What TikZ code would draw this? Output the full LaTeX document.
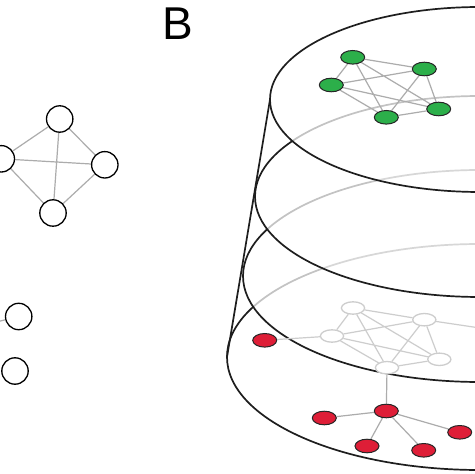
\documentclass[tikz,border=0pt]{standalone}
\usepackage{fontspec}
\setmainfont{Liberation Sans}
\usetikzlibrary{shapes.geometric}
\definecolor{netgreen}{RGB}{44,175,74}
\definecolor{netred}{RGB}{222,30,55}
\definecolor{edgegray}{RGB}{172,172,172}
\definecolor{wgray}{RGB}{205,205,205}
\definecolor{faint}{RGB}{195,195,195}
\definecolor{fainter}{RGB}{215,215,215}
\definecolor{dark}{RGB}{30,30,30}
\pgfdeclarelayer{bg}
\pgfdeclarelayer{edges}
\pgfsetlayers{bg,edges,main}
\begin{document}
\begin{tikzpicture}[x=0.5pt,y=-0.5pt,
  circ/.style={circle,draw=black,fill=white,line width=0.65pt,minimum size=13.2pt,inner sep=0pt},
  gnode/.style={ellipse,draw=black!85,fill=netgreen,line width=0.5pt,minimum width=12pt,minimum height=6.8pt,inner sep=0pt},
  rnode/.style={gnode,fill=netred},
  wnode/.style={ellipse,draw=wgray,fill=white,line width=0.65pt,minimum width=11.6pt,minimum height=6.2pt,inner sep=0pt},
  link/.style={draw=edgegray,line width=0.6pt},
  wlink/.style={draw=wgray,line width=0.6pt},
  rim/.style={draw=dark,line width=0.85pt},
  hid/.style={draw=faint,line width=0.85pt},
  hidd/.style={draw=fainter,line width=0.85pt}]
\useasboundingbox (0,0) rectangle (474,474);

\begin{pgfonlayer}{bg}
\fill[white] (0,0) rectangle (474,474);
% layer 4
\draw[rim] (480,357) ellipse [x radius=126.5pt, y radius=56.5pt];
% layer 3
\fill[white] (480,276) ellipse [x radius=118.5pt, y radius=53pt];
\begin{scope}
  \clip (480,276) ellipse [x radius=118.5pt, y radius=53pt];
  \draw[hid] (480,357) ellipse [x radius=126.5pt, y radius=56.5pt];
\end{scope}
\draw[rim] (480,276) ellipse [x radius=118.5pt, y radius=53pt];
% layer 2
\fill[white] (480,196.5) ellipse [x radius=112.5pt, y radius=50.25pt];
\begin{scope}
  \clip (480,196.5) ellipse [x radius=112.5pt, y radius=50.25pt];
  \draw[hidd] (480,357) ellipse [x radius=126.5pt, y radius=56.5pt];
  \draw[hid] (480,276) ellipse [x radius=118.5pt, y radius=53pt];
\end{scope}
\draw[rim] (480,196.5) ellipse [x radius=112.5pt, y radius=50.25pt];
% layer 1
\fill[white] (480,99.5) ellipse [x radius=105pt, y radius=46.25pt];
\begin{scope}
  \clip (480,99.5) ellipse [x radius=105pt, y radius=46.25pt];
  \draw[hidd] (480,276) ellipse [x radius=118.5pt, y radius=53pt];
  \draw[hid] (480,196.5) ellipse [x radius=112.5pt, y radius=50.25pt];
\end{scope}
\draw[rim] (480,99.5) ellipse [x radius=105pt, y radius=46.25pt];
% cone side
\coordinate (top) at (270,99.5);
\coordinate (bot) at (227,357);
\draw[rim] (top) -- (bot);
\end{pgfonlayer}

% label
\node[font=\fontsize{23}{23}\selectfont,inner sep=0pt] (lbl) at (177.5,23.5) {B};

% left panel
\node[circ] (A1) at (59.7,119) {};
\node[circ] (A2) at (1.3,158.8) {};
\node[circ] (A3) at (104.8,164.8) {};
\node[circ] (A4) at (53,213) {};
\node[circ] (A5) at (18.7,316.5) {};
\node[circ] (A6) at (15,371) {};
\coordinate (s5) at (-20,326);

% green network
\node[gnode] (G1) at (352.7,57.3) {};
\node[gnode] (G2) at (424.3,69) {};
\node[gnode] (G3) at (331.3,85) {};
\node[gnode] (G4) at (438.7,109) {};
\node[gnode] (G5) at (386.3,117.3) {};

% faded network
\node[wnode] (W1) at (353,308) {};
\node[wnode] (W2) at (424.3,319.7) {};
\node[wnode] (W3) at (332,336) {};
\node[wnode] (W4) at (439.3,359.3) {};
\node[wnode] (W5) at (387,367.7) {};
\coordinate (wout) at (480,328);

% red network
\node[rnode] (R0) at (264.7,340.3) {};
\node[rnode] (R1) at (386.3,411) {};
\node[rnode] (R2) at (324.3,418) {};
\node[rnode] (R3) at (459.7,432.3) {};
\node[rnode] (R4) at (367,446) {};
\node[rnode] (R5) at (423.7,450.3) {};

\begin{pgfonlayer}{edges}
\draw[link] (A1)--(A2) (A1)--(A3) (A1)--(A4) (A2)--(A3) (A2)--(A4) (A3)--(A4);
\draw[link] (A5)--(s5);
\draw[link] (G1)--(G2) (G1)--(G3) (G1)--(G4) (G1)--(G5) (G2)--(G3)
            (G2)--(G4) (G2)--(G5) (G3)--(G4) (G3)--(G5) (G4)--(G5);
\draw[wlink] (W1)--(W2) (W1)--(W3) (W1)--(W4) (W1)--(W5) (W2)--(W3)
             (W2)--(W4) (W2)--(W5) (W3)--(W4) (W3)--(W5) (W4)--(W5);
\draw[wlink] (W2)--(wout);
\draw[wlink] (R0)--(W3);
\draw[link] (W5)--(R1);
\draw[link] (R1)--(R2) (R1)--(R3) (R1)--(R4) (R1)--(R5);
\end{pgfonlayer}
\end{tikzpicture}
\end{document}
